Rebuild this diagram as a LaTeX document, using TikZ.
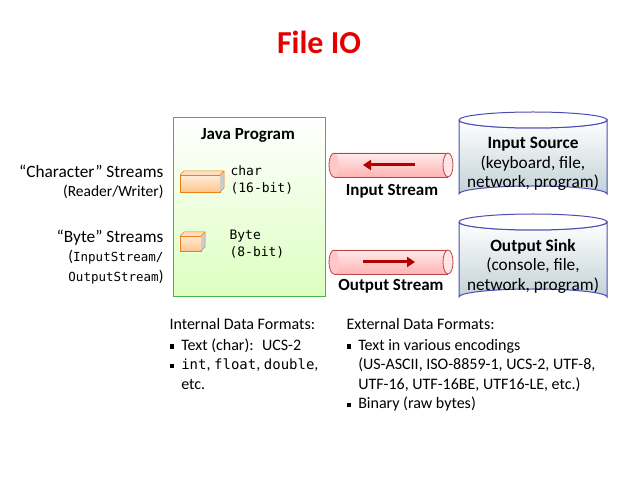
\documentclass[tikz,border=0pt]{standalone}
\usepackage{fontspec}
\setmainfont{Carlito}
\newfontfamily\monof{DejaVu Sans Mono}
\usetikzlibrary{arrows.meta}
\newcommand{\sqb}{\raisebox{0.2ex}{\rule{4.5pt}{4.5pt}}\ \ }
\newcommand{\sqp}{\phantom{\sqb}}
\newcommand{\mt}[1]{{\monof\fontsize{14}{19.5}\selectfont #1}}
\begin{document}
\begin{tikzpicture}[x=1pt,y=-1pt,
 lbl/.style={font=\fontsize{17.3}{19.5}\selectfont,align=center},
 mono/.style={font=\monof\fontsize{13}{17}\selectfont,align=left,anchor=west},
 small/.style={font=\fontsize{16}{19.5}\selectfont,align=left,anchor=north west},
 cyl/.style={draw=blue!40!gray,line width=1pt,top color=white,bottom color=blue!25!cyan!20!gray!40},
 pipec/.style={draw=red!45!gray,line width=0.8pt},
 box3/.style={draw=orange!70!brown,line width=0.6pt,top color=orange!15,bottom color=orange!45},
 arr/.style={draw=red!70!black,line width=3pt,-{Triangle[length=8pt,width=10pt]}}]
\useasboundingbox (0,0) rectangle (638,478);
\node[font=\bfseries\fontsize{32}{34}\selectfont,text=red!90!black] (title) at (319,42) {File IO};
% java program box
\path[draw=green!40!gray,line width=1pt,top color=white,bottom color=green!55!yellow!25] (173,118) rectangle (325,297);
\node[font=\bfseries\fontsize{17}{18}\selectfont] (jp) at (248,135) {Java Program};
% char cube
\fill[box3] (180,175) rectangle (220,192);
\fill[orange!25] (180,175) -- (184,171) -- (224,171) -- (220,175) -- cycle;
\fill[gray!40] (220,175) -- (224,171) -- (224,188) -- (220,192) -- cycle;
\draw[orange!70!brown,line width=0.5pt] (180,175) -- (184,171) -- (224,171) -- (224,188) -- (220,192) (220,175) -- (224,171);
\node[mono] (chr) at (227,180) {char\\(16-bit)};
% byte cube
\fill[box3] (180,236) rectangle (201,251);
\fill[orange!25] (180,236) -- (184,232) -- (205,232) -- (201,236) -- cycle;
\fill[gray!40] (201,236) -- (205,232) -- (205,247) -- (201,251) -- cycle;
\draw[orange!70!brown,line width=0.5pt] (180,236) -- (184,232) -- (205,232) -- (205,247) -- (201,251) (201,236) -- (205,232);
\node[mono] (byt) at (226,244) {Byte\\(8-bit)};
% left labels
\node[lbl,anchor=east,align=right] (cs) at (167,182) {“Character” Streams\\{\fontsize{15.5}{19}\selectfont(Reader/Writer)}};
\node[lbl,anchor=east,align=right] (bs) at (167,257) {“Byte” Streams\\{\fontsize{15.5}{19}\selectfont(\monof\fontsize{12.5}{19}\selectfont InputStream/}\\{\monof\fontsize{12.5}{19}\selectfont OutputStream}{\fontsize{15.5}{19}\selectfont)}};
% pipes
\foreach \yy/\nm in {165/ip,262/op}{
 \fill[top color=red!8,bottom color=red!30] (334,\yy-12) rectangle (448,\yy+12);
 \fill[red!22] (334,\yy) ellipse[x radius=5,y radius=12];
 \draw[pipec] (334,\yy-12) -- (448,\yy-12) (334,\yy+12) -- (448,\yy+12);
 \draw[pipec] (334,\yy-12) arc[start angle=90,end angle=270,x radius=5,y radius=-12];
 \draw[pipec,fill=red!10] (448,\yy) ellipse[x radius=5,y radius=12];
 \coordinate (\nm l) at (363,\yy); \coordinate (\nm r) at (415,\yy);
}
\draw[arr] (ipr) -- (ipl);
\draw[arr] (opl) -- (opr);
\node[font=\bfseries\fontsize{17}{18}\selectfont] (ist) at (392,191) {Input Stream};
\node[font=\bfseries\fontsize{17}{18}\selectfont] (ost) at (391,286) {Output Stream};
% cylinders
\foreach \yt/\yb in {120/194,222/297}{
 \path[cyl] (459,\yt) -- (459,\yb) arc[start angle=180,end angle=360,x radius=74,y radius=8] -- (607,\yt) arc[start angle=0,end angle=180,x radius=74,y radius=8];
 \draw[blue!40!gray,line width=1pt,fill=white] (533,\yt) ellipse[x radius=74,y radius=8];
}
\node[lbl] (is) at (533,164) {\textbf{Input Source}\\(keyboard, file,\\network, program)};
\node[lbl] (os) at (533,266) {\textbf{Output Sink}\\(console, file,\\network, program)};
% bottom texts
\node[small] (ind) at (166,315) {Internal Data Formats:\\[1pt]
\sqb Text (char): \ UCS-2\\
\sqb \mt{int}, \mt{float}, \mt{double},\\
\sqp etc.};
\node[small] (ext) at (343,315) {External Data Formats:\\[1pt]
\sqb Text in various encodings\\
\sqp (US-ASCII, ISO-8859-1, UCS-2, UTF-8,\\
\sqp UTF-16, UTF-16BE, UTF16-LE, etc.)\\
\sqb Binary (raw bytes)};
\end{tikzpicture}
\end{document}
